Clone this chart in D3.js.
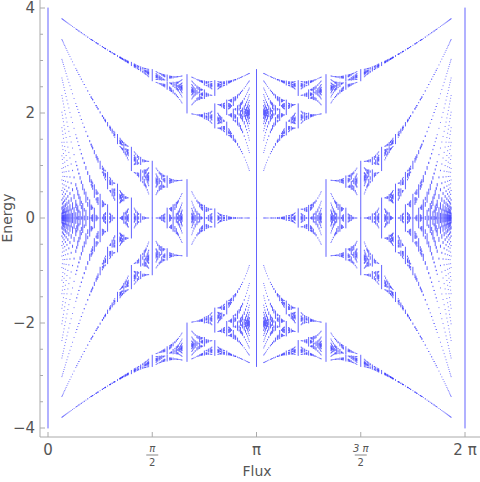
<!DOCTYPE html>
<html><head><meta charset="utf-8">
<script src="https://cdn.jsdelivr.net/npm/d3@7"></script>
<style>body{margin:0;background:#fff}</style>
</head><body><div id="chart"></div>
<script>
// flux values are 2*pi*p/q for every reduced fraction with q up to qMax
const qMax = 30
const yTicks = [-4, -2, 0, 2, 4]
const xTicks = [
  {v: 0, num: "0", den: null},
  {v: Math.PI / 2, num: "π", den: "2"},
  {v: Math.PI, num: "π", den: null},
  {v: 3 * Math.PI / 2, num: "3 π", den: "2"},
  {v: 2 * Math.PI, num: "2 π", den: null}
]

let W = 480, H = 482
let svg = d3.select("#chart").append("svg").attr("width", W).attr("height", H)
  .style("font-family", "DejaVu Sans, sans-serif")

let x = d3.scaleLinear().domain([0, 2 * Math.PI]).range([48, 465])
let y = d3.scaleLinear().domain([-4, 4]).range([428, 8])

// Jacobi eigenvalues of a real symmetric matrix
function eig(A) {
  let n = A.length
  for (let sweep = 0; sweep < 60; sweep++) {
    let off = 0
    for (let i = 0; i < n; i++) for (let j = i + 1; j < n; j++) off += A[i][j] * A[i][j]
    if (off < 1e-20) break
    for (let p = 0; p < n; p++) for (let q = p + 1; q < n; q++) {
      if (Math.abs(A[p][q]) < 1e-14) continue
      let th = (A[q][q] - A[p][p]) / (2 * A[p][q])
      let t = Math.sign(th || 1) / (Math.abs(th) + Math.sqrt(th * th + 1))
      let c = 1 / Math.sqrt(t * t + 1), s = t * c
      for (let k = 0; k < n; k++) {
        let akp = A[k][p], akq = A[k][q]
        A[k][p] = c * akp - s * akq; A[k][q] = s * akp + c * akq
      }
      for (let k = 0; k < n; k++) {
        let apk = A[p][k], aqk = A[q][k]
        A[p][k] = c * apk - s * aqk; A[q][k] = s * apk + c * aqk
      }
    }
  }
  return A.map((r, i) => r[i]).sort((a, b) => a - b)
}

function harper(p, q, shift, wrap) {
  let A = d3.range(q).map(() => new Array(q).fill(0))
  for (let n = 0; n < q; n++) {
    A[n][n] += 2 * Math.cos(2 * Math.PI * p / q * n + shift)
    if (q > 2) {
      let m = (n + 1) % q
      let w = (m === 0) ? wrap : 1
      A[n][m] += w; A[m][n] += w
    }
  }
  if (q === 2) { A[0][1] = A[1][0] = (1 + wrap) }
  if (q === 1) A[0][0] += 2 * wrap
  return A
}

function gcd(a, b) { return b ? gcd(b, a % b) : a }

let bands = []
for (let q = 1; q <= qMax; q++) {
  for (let p = 0; p <= q; p++) {
    if (gcd(p, q) !== 1) continue
    let e1 = eig(harper(p, q, 0, 1))
    let e2 = eig(harper(p, q, Math.PI / q, -1))
    for (let j = 0; j < q; j++)
      bands.push({f: 2 * Math.PI * p / q, lo: Math.min(e1[j], e2[j]), hi: Math.max(e1[j], e2[j])})
  }
}

svg.append("g").selectAll("rect").data(bands).enter().append("rect")
  .attr("x", d => x(d.f) - 0.5)
  .attr("width", 1)
  .attr("y", d => y(d.hi) - 0.4)
  .attr("height", d => Math.max(0.8, y(d.lo) - y(d.hi) + 0.8))
  .attr("fill", "#3c3cff")
  .attr("opacity", 0.8)

// frame
let axisCol = "#aaaaaa", txtCol = "#555555"
svg.append("line").attr("x1", 40).attr("x2", 40).attr("y1", 0).attr("y2", 437).attr("stroke", axisCol)
svg.append("line").attr("x1", 40).attr("x2", 480).attr("y1", 437).attr("y2", 437).attr("stroke", axisCol)

yTicks.forEach(v => {
  svg.append("line").attr("x1", 40).attr("x2", 45).attr("y1", y(v)).attr("y2", y(v)).attr("stroke", axisCol)
  svg.append("text").attr("x", 35).attr("y", y(v) + 5).attr("text-anchor", "end")
    .attr("font-size", 15).attr("fill", txtCol).text(v < 0 ? "−" + (-v) : v)
})
svg.selectAll(".minor").data(d3.range(-4, 4.01, 0.5).filter(v => v % 2 !== 0)).enter().append("line")
  .attr("x1", 40).attr("x2", 43).attr("y1", d => y(d)).attr("y2", d => y(d)).attr("stroke", axisCol)

xTicks.forEach(t => {
  let px = x(t.v)
  svg.append("line").attr("x1", px).attr("x2", px).attr("y1", 437).attr("y2", 432).attr("stroke", axisCol)
  if (t.den) {
    svg.append("text").attr("x", px).attr("y", 452).attr("text-anchor", "middle")
      .attr("font-size", 10).attr("font-style", "italic").attr("fill", txtCol).text(t.num)
    svg.append("line").attr("x1", px - 6).attr("x2", px + 6).attr("y1", 455).attr("y2", 455).attr("stroke", txtCol).attr("stroke-width", 0.7)
    svg.append("text").attr("x", px).attr("y", 466).attr("text-anchor", "middle")
      .attr("font-size", 10).attr("fill", txtCol).text(t.den)
  } else {
    svg.append("text").attr("x", px).attr("y", 455).attr("text-anchor", "middle")
      .attr("font-size", 15).attr("fill", txtCol).text(t.num)
  }
})

svg.append("text").attr("x", 257).attr("y", 476).attr("text-anchor", "middle")
  .attr("font-size", 14).attr("fill", txtCol).text("Flux")
svg.append("text").attr("transform", "translate(12,218) rotate(-90)").attr("text-anchor", "middle")
  .attr("font-size", 14).attr("fill", txtCol).text("Energy")
</script></body></html>
